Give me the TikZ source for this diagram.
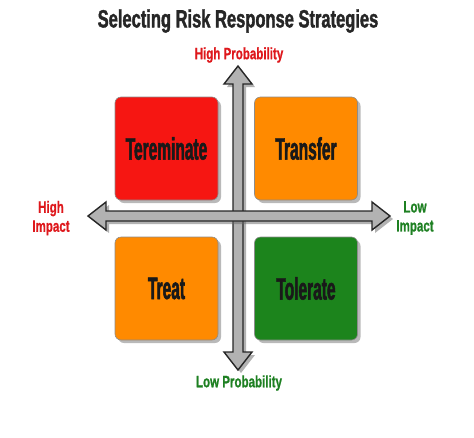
\documentclass[tikz,border=0pt]{standalone}
\usepackage{fontspec}
\usetikzlibrary{shadows}
\newfontfamily\titlefont[FakeStretch=0.66,FakeBold=1.5]{Liberation Sans Bold}
\newfontfamily\impactfont[FakeStretch=0.5,FakeBold=1.5]{Liberation Sans Bold}
\newfontfamily\labelfont[FakeStretch=0.7,FakeBold=0.8]{Liberation Sans Bold}
\definecolor{riskred}{RGB}{246,22,18}
\definecolor{riskorange}{RGB}{255,138,0}
\definecolor{riskgreen}{RGB}{28,132,28}
\definecolor{lblred}{RGB}{222,24,28}
\definecolor{lblgreen}{RGB}{30,128,34}
\tikzset{
  quad/.style={draw=black!45, line width=0.6pt, rounded corners=6pt,
    minimum width=103pt, minimum height=103pt,
    drop shadow={shadow xshift=3pt, shadow yshift=-3pt, opacity=0.55},
    font=\impactfont\fontsize{31}{31}\selectfont, text=black!90},
  axislabel/.style={font=\labelfont\fontsize{16.5}{19}\selectfont, align=center},
  axisarrow/.style={fill=gray!60, draw=black!85, line width=1.4pt, line join=miter}
}
\begin{document}
\begin{tikzpicture}[x=1pt,y=-1pt]
      \useasboundingbox (0,0) rectangle (474,437);
%
      \node[font=\titlefont\fontsize{25}{25}\selectfont, text=black!85] (title) at (238,21) {Selecting Risk Response Strategies};
%
      % vertical axis
      \fill[black!60, opacity=0.5] (241,69) -- (255,87) -- (246,87) -- (246,355) -- (255,355) -- (241,373) -- (227,355) -- (236,355) -- (236,87) -- (227,87) -- cycle;
      \draw[axisarrow] (238,66) -- (252,84) -- (243,84) -- (243,352) -- (252,352) -- (238,370) -- (224,352) -- (233,352) -- (233,84) -- (224,84) -- cycle;
      % horizontal axis
      \fill[black!60, opacity=0.5] (91,219) -- (109,205) -- (109,214) -- (375,214) -- (375,205) -- (393,219) -- (375,233) -- (375,224) -- (109,224) -- (109,233) -- cycle;
      \draw[axisarrow] (88,216) -- (106,202) -- (106,211) -- (372,211) -- (372,202) -- (390,216) -- (372,230) -- (372,221) -- (106,221) -- (106,230) -- cycle;
      \fill[gray!60] (234,212) rectangle (242,220);
%
      \node[quad, fill=riskred] (terminate) at (166.5,148.5) {Tereminate};
      \node[quad, fill=riskorange] (transfer) at (306,148.5) {Transfer};
      \node[quad, fill=riskorange] (treat) at (166.5,288.5) {Treat};
      \node[quad, fill=riskgreen] (tolerate) at (306,288.5) {Tolerate};
%
      \node[axislabel, text=lblred] (highprob) at (239,55) {High Probability};
      \node[axislabel, text=lblgreen] (lowprob) at (239,383) {Low Probability};
      \node[axislabel, text=lblred] (highimp) at (51,218) {High\\Impact};
      \node[axislabel, text=lblgreen] (lowimp) at (415,218) {Low\\Impact};
%
\end{tikzpicture}
\end{document}
